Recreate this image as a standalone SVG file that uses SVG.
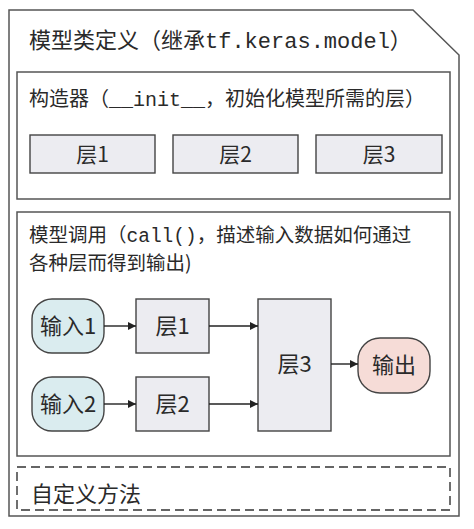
<svg xmlns="http://www.w3.org/2000/svg" width="474" height="529" viewBox="0 0 474 529">
<defs>
<marker id="arr" viewBox="0 0 10 10" refX="10" refY="5" markerWidth="8" markerHeight="8" orient="auto" markerUnits="userSpaceOnUse">
<path d="M0,0 L10,5 L0,10 z" fill="#222"/>
</marker>
<style>
.t{font-family:"Noto Sans CJK SC","Noto Sans",sans-serif;fill:#2a2a2a;}
.m{font-family:"Liberation Mono","Noto Sans CJK SC",monospace;}
.box{fill:#fff;stroke:#555;stroke-width:1.5;}
.layer{fill:#ececf1;stroke:#444;stroke-width:1.4;}
.inp{fill:#daecef;stroke:#444;stroke-width:1.4;}
.out{fill:#f6dcd7;stroke:#444;stroke-width:1.4;}
.ln{stroke:#222;stroke-width:1.4;fill:none;marker-end:url(#arr);}
</style>
</defs>
<rect width="474" height="529" fill="#fff"/>
<g id="outer">
<path d="M9,10 H413 L459,55 V516 H9 Z" fill="#fff" stroke="#555" stroke-width="1.5"/>
<text class="t" x="29" y="48" font-size="22">模型类定义（继承<tspan class="m">tf.keras.model</tspan>）</text>
</g>
<g id="constructor">
<rect class="box" x="17" y="72" width="433" height="127"/>
<text class="t" x="29" y="106" font-size="20">构造器（<tspan class="m">__init__</tspan>，初始化模型所需的层）</text>
</g>
<g id="c-layer1"><rect class="layer" x="30" y="135" width="125" height="38"/><text class="t" x="92.5" y="162" font-size="21" text-anchor="middle">层1</text></g>
<g id="c-layer2"><rect class="layer" x="173" y="135" width="125" height="38"/><text class="t" x="235.5" y="162" font-size="21" text-anchor="middle">层2</text></g>
<g id="c-layer3"><rect class="layer" x="316" y="135" width="126" height="38"/><text class="t" x="379" y="162" font-size="21" text-anchor="middle">层3</text></g>
<g id="call">
<rect class="box" x="17" y="212" width="433" height="244"/>
<text class="t" x="29" y="242" font-size="19.5">模型调用（<tspan class="m">call()</tspan>，描述输入数据如何通过</text>
<text class="t" x="29" y="270" font-size="19.5">各种层而得到输出)</text>
</g>
<g id="input1"><rect class="inp" x="32" y="299" width="72" height="54" rx="20"/><text class="t" x="68" y="334" font-size="22" text-anchor="middle">输入1</text></g>
<g id="input2"><rect class="inp" x="32" y="377" width="72" height="54" rx="20"/><text class="t" x="68" y="412" font-size="22" text-anchor="middle">输入2</text></g>
<g id="layer1"><rect class="layer" x="136" y="299" width="73" height="54"/><text class="t" x="172.5" y="334" font-size="22" text-anchor="middle">层1</text></g>
<g id="layer2"><rect class="layer" x="136" y="377" width="73" height="54"/><text class="t" x="172.5" y="412" font-size="22" text-anchor="middle">层2</text></g>
<g id="layer3"><rect class="layer" x="258" y="299" width="73" height="132"/><text class="t" x="294.5" y="372" font-size="22" text-anchor="middle">层3</text></g>
<g id="output"><rect class="out" x="358" y="338" width="72" height="55" rx="22"/><text class="t" x="394" y="373" font-size="22" text-anchor="middle">输出</text></g>
<g id="connectors">
<line class="ln" x1="104" y1="326" x2="136" y2="326"/>
<line class="ln" x1="104" y1="404" x2="136" y2="404"/>
<line class="ln" x1="209" y1="326" x2="258" y2="326"/>
<line class="ln" x1="209" y1="404" x2="258" y2="404"/>
<line class="ln" x1="331" y1="364" x2="358" y2="364"/>
</g>
<g id="custom">
<rect x="17" y="467" width="433" height="43" fill="none" stroke="#333" stroke-width="1.4" stroke-dasharray="9,5"/>
<text class="t" x="31" y="502" font-size="22">自定义方法</text>
</g>
</svg>
